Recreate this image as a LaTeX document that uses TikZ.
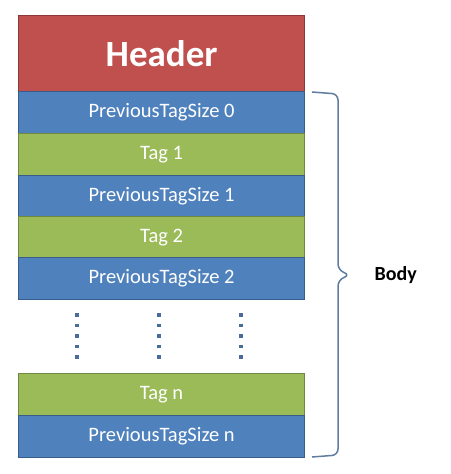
\documentclass[tikz,border=0pt]{standalone}
\usepackage{fontspec}
\setmainfont{Carlito}
\definecolor{cred}{HTML}{C0504D}
\definecolor{cblue}{HTML}{4F81BD}
\definecolor{cgreen}{HTML}{9BBB59}
\definecolor{bred}{HTML}{8C3836}
\definecolor{bblue}{HTML}{385D8A}
\definecolor{bgreen}{HTML}{71893F}
\definecolor{dotc}{HTML}{4A6C9B}
\begin{document}
\begin{tikzpicture}[x=1pt,y=-1pt,
  cell/.style={draw, line width=1.2pt, minimum width=286pt, inner sep=0pt, text=white, font=\fontsize{20.5}{24}\selectfont, anchor=north west},
  bluecell/.style={cell, fill=cblue, draw=bblue, minimum height=42pt},
  greencell/.style={cell, fill=cgreen, draw=bgreen, minimum height=42pt},
  dotcol/.style={draw=dotc, line width=3.5pt, dash pattern=on 3.5pt off 7pt},
  bracestyle/.style={draw=bblue!80, line width=1.5pt, rounded corners=6pt}]
\useasboundingbox (0,0) rectangle (450,474);
\fill[white] (0,0) rectangle (450,474);
\node[cell, fill=cred, draw=bred, minimum height=76pt, font=\bfseries\fontsize{37}{42}\selectfont] (hdr) at (18,15) {Header};
\node[bluecell] (p0) at (18,91) {PreviousTagSize 0};
\node[greencell] (t1) at (18,133) {Tag 1};
\node[bluecell] (p1) at (18,175) {PreviousTagSize 1};
\node[greencell] (t2) at (18,216) {Tag 2};
\node[bluecell] (p2) at (18,257) {PreviousTagSize 2};
\node[greencell] (tn) at (18,373) {Tag n};
\node[bluecell] (pn) at (18,415) {PreviousTagSize n};
\foreach \x in {77,159,241} \draw[dotcol] (\x,313) -- (\x,364);
\coordinate (btop) at (312,92);
\coordinate (bbot) at (312,457);
\draw[bracestyle] (btop) -- (338,94) -- (338,270) -- (350,275) -- (338,280) -- (338,455) -- (bbot);
\node[font=\bfseries\fontsize{20}{24}\selectfont, anchor=west] (body) at (371,275) {Body};
\end{tikzpicture}
\end{document}
